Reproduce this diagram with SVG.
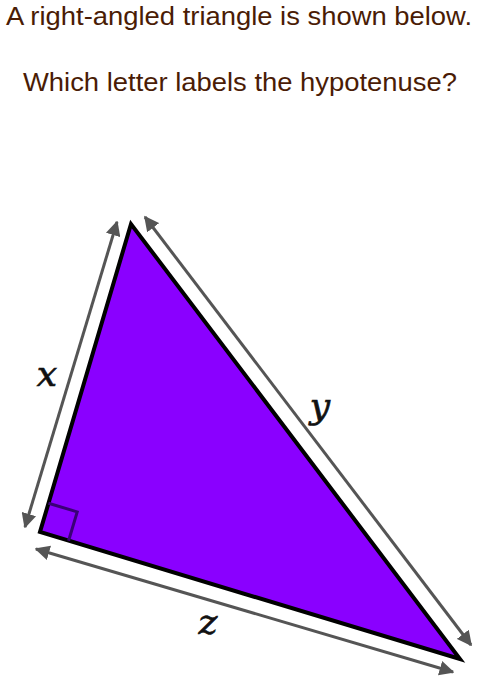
<svg xmlns="http://www.w3.org/2000/svg" width="479" height="682" viewBox="0 0 479 682">
<defs>
<style>
.q{font-family:"Liberation Sans",Arial,sans-serif;font-size:25px;fill:#4a1c05;text-anchor:middle}
.lab{font-family:"DejaVu Serif","Liberation Serif",serif;font-style:italic;font-size:36px;fill:#111;stroke:#111;stroke-width:0.7;text-anchor:middle}
.arr{stroke:#555;stroke-width:3;fill:none;marker-start:url(#ah);marker-end:url(#ah)}
</style>
<marker id="ah" viewBox="0 0 10 10" refX="9" refY="5" markerWidth="5" markerHeight="5" orient="auto-start-reverse" markerUnits="strokeWidth">
<path d="M0,0 L10,5 L0,10 Z" fill="#555"/>
</marker>
</defs>
<rect width="479" height="682" fill="#fff"/>
<text class="q" x="239" y="25" textLength="466" lengthAdjust="spacingAndGlyphs">A right-angled triangle is shown below.</text>
<text class="q" x="240" y="91" textLength="434" lengthAdjust="spacingAndGlyphs">Which letter labels the hypotenuse?</text>
<g id="triangle">
<polygon points="131,224 40,532 460,659" fill="#8a00ff" stroke="#000" stroke-width="4" stroke-linejoin="miter"/>
<polyline points="48.5,503.2 77.2,511.9 68.6,540.7" fill="none" stroke="#3a0077" stroke-width="3"/>
</g>
<g id="connectors">
<line class="arr" x1="25" y1="527" x2="117" y2="222"/>
<line class="arr" x1="145" y1="217" x2="471" y2="645"/>
<line class="arr" x1="36" y1="549" x2="453" y2="672"/>
</g>
<g id="label-x"><text class="lab" x="47" y="386">x</text></g>
<g id="label-y"><text class="lab" x="320" y="418">y</text></g>
<g id="label-z"><text class="lab" x="208" y="634">z</text></g>
</svg>
